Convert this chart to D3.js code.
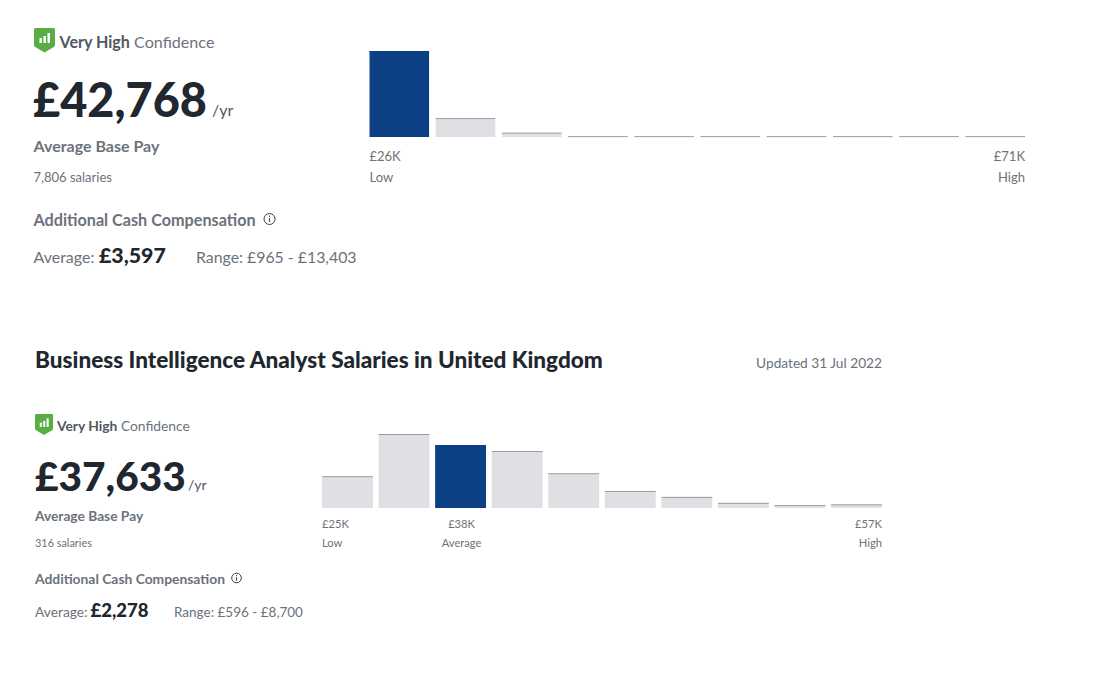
<!DOCTYPE html>
<html>
<head>
<meta charset="utf-8">
<script src="https://cdn.jsdelivr.net/npm/d3@7"></script>
<style>
    html, body { margin: 0; padding: 0; background: #fff; }
    svg { display: block; font-family: Lato, sans-serif; }
</style>
</head>
<body>
<div id="chart"></div>
<script>
// Histogram values, as share of the tallest bin
const topBins = [100, 22, 5, 1, 1, 1, 1, 1, 1, 1];
const bottomBins = [43, 100, 85, 77, 47, 23, 15, 7, 4, 5];

const topTicks = ['£26K', '£71K'];
const bottomTicks = ['£25K', '£38K', '£57K'];
const topTickNames = ['Low', 'High'];
const bottomTickNames = ['Low', 'Average', 'High'];

const INK = '#20272f';
const LABEL = '#505863';
const MUTED = '#6b727b';
const BLUE = '#0c3f84';
const GREY = '#dfe0e3';
const EDGE = '#9c9ea4';

const svg = d3.select('#chart').append('svg')
    .attr('width', 1114)
    .attr('height', 678);

function addText(x, y, str, size, weight, fill, anchor) {
    return svg.append('text')
        .attr('x', x)
        .attr('y', y)
        .attr('font-size', size)
        .attr('font-weight', weight || 400)
        .attr('fill', fill || LABEL)
        .attr('text-anchor', anchor || 'start')
        .text(str);
}

// Green shield with three small bars
function drawBadge(x, y, s) {
    const g = svg.append('g').attr('transform', `translate(${x},${y}) scale(${s})`);
    g.append('path')
        .attr('d', 'M0 1.5 Q0 0 1.5 0 H19.5 Q21 0 21 1.5 V17 Q21 18.5 19.8 19 L10.5 24.5 L1.2 19 Q0 18.5 0 17 Z')
        .attr('fill', '#58ad45');
    g.selectAll('rect.b')
        .data([[5.5, 10, 2.4, 5], [9.5, 8, 2.4, 7], [13.5, 5, 2.4, 10]])
        .enter().append('rect')
        .attr('x', d => d[0]).attr('y', d => d[1])
        .attr('width', d => d[2]).attr('height', d => d[3])
        .attr('fill', '#fff');
}

function drawInfo(cx, cy, r) {
    svg.append('circle').attr('cx', cx).attr('cy', cy).attr('r', r)
        .attr('fill', 'none').attr('stroke', '#3d444d').attr('stroke-width', 1);
    svg.append('line').attr('x1', cx).attr('x2', cx).attr('y1', cy - 0.8).attr('y2', cy + r * 0.55)
        .attr('stroke', '#3d444d').attr('stroke-width', 1.1);
    svg.append('circle').attr('cx', cx).attr('cy', cy - r * 0.5).attr('r', 0.7).attr('fill', '#3d444d');
}

function drawBars(values, left, right, base, top, highlight) {
    const x = d3.scaleBand().domain(d3.range(values.length)).range([left, right]).paddingInner(0.1);
    const y = d3.scaleLinear().domain([0, d3.max(values)]).range([base, top]);
    const g = svg.append('g');
    g.selectAll('rect')
        .data(values)
        .enter().append('rect')
        .attr('x', (d, i) => x(i))
        .attr('y', d => y(d))
        .attr('width', x.bandwidth())
        .attr('height', d => base - y(d))
        .attr('fill', (d, i) => i === highlight ? BLUE : GREY);
    g.selectAll('line')
        .data(values)
        .enter().append('line')
        .attr('x1', (d, i) => x(i))
        .attr('x2', (d, i) => x(i) + x.bandwidth())
        .attr('y1', d => y(d) + 0.5)
        .attr('y2', d => y(d) + 0.5)
        .attr('stroke', (d, i) => i === highlight ? BLUE : EDGE)
        .attr('stroke-width', 1);
    return x;
}

// Upper block
drawBadge(34, 28, 1);
let t = addText(59.5, 47.5, '', 16.1, 400);
t.append('tspan').attr('font-weight', 700).text('Very High');
t.append('tspan').attr('fill', MUTED).text(' Confidence');
addText(33, 117, '£42,768', 46.8, 900, INK);
addText(212, 116, '/yr', 16, 400, LABEL);
addText(33.5, 151.5, 'Average Base Pay', 16, 700, MUTED);
addText(33.5, 181.5, '7,806 salaries', 13, 400, MUTED);
addText(33.5, 225.5, 'Additional Cash Compensation', 16.2, 700, MUTED);
drawInfo(269.5, 219, 5.5);
addText(33.5, 263, 'Average:', 16, 400, MUTED);
addText(99, 263, '£3,597', 21.3, 900, INK);
addText(196, 263, 'Range: £965 - £13,403', 15.85, 400, MUTED);

const topX = drawBars(topBins, 369.5, 1025, 137, 51, 0);
addText(topX(0), 161, topTicks[0], 13, 400, MUTED);
addText(topX(0), 182, topTickNames[0], 13, 400, MUTED);
addText(topX(9) + topX.bandwidth(), 161, topTicks[1], 13, 400, MUTED, 'end');
addText(topX(9) + topX.bandwidth(), 182, topTickNames[1], 13, 400, MUTED, 'end');

// Lower block
addText(35, 368, 'Business Intelligence Analyst Salaries in United Kingdom', 22.55, 900, INK);
addText(882, 368, 'Updated 31 Jul 2022', 13.7, 400, MUTED, 'end');

drawBadge(35, 414, 0.86);
t = addText(57, 431, '', 13.8, 400);
t.append('tspan').attr('font-weight', 700).text('Very High');
t.append('tspan').attr('fill', MUTED).text(' Confidence');
addText(35, 490.5, '£37,633', 40.6, 900, INK);
addText(188, 490, '/yr', 14, 400, LABEL);
addText(35, 520.5, 'Average Base Pay', 13.75, 700, MUTED);
addText(35, 546.5, '316 salaries', 10.9, 400, MUTED);
addText(35, 584, 'Additional Cash Compensation', 13.85, 700, MUTED);
drawInfo(236.5, 578, 4.8);
addText(35, 617, 'Average:', 13.8, 400, MUTED);
addText(90.5, 616.5, '£2,278', 18.5, 900, INK);
addText(174, 617, 'Range: £596 - £8,700', 13.5, 400, MUTED);

const botX = drawBars(bottomBins, 322, 882, 508, 434, 2);
const midX = botX(2) + botX.bandwidth() / 2 + 1;
addText(botX(0), 528, bottomTicks[0], 11.2, 400, MUTED);
addText(botX(0), 546.5, bottomTickNames[0], 11.2, 400, MUTED);
addText(midX, 528, bottomTicks[1], 11.2, 400, MUTED, 'middle');
addText(midX, 546.5, bottomTickNames[1], 11.2, 400, MUTED, 'middle');
addText(botX(9) + botX.bandwidth(), 528, bottomTicks[2], 11.2, 400, MUTED, 'end');
addText(botX(9) + botX.bandwidth(), 546.5, bottomTickNames[2], 11.2, 400, MUTED, 'end');
</script>
</body>
</html>
